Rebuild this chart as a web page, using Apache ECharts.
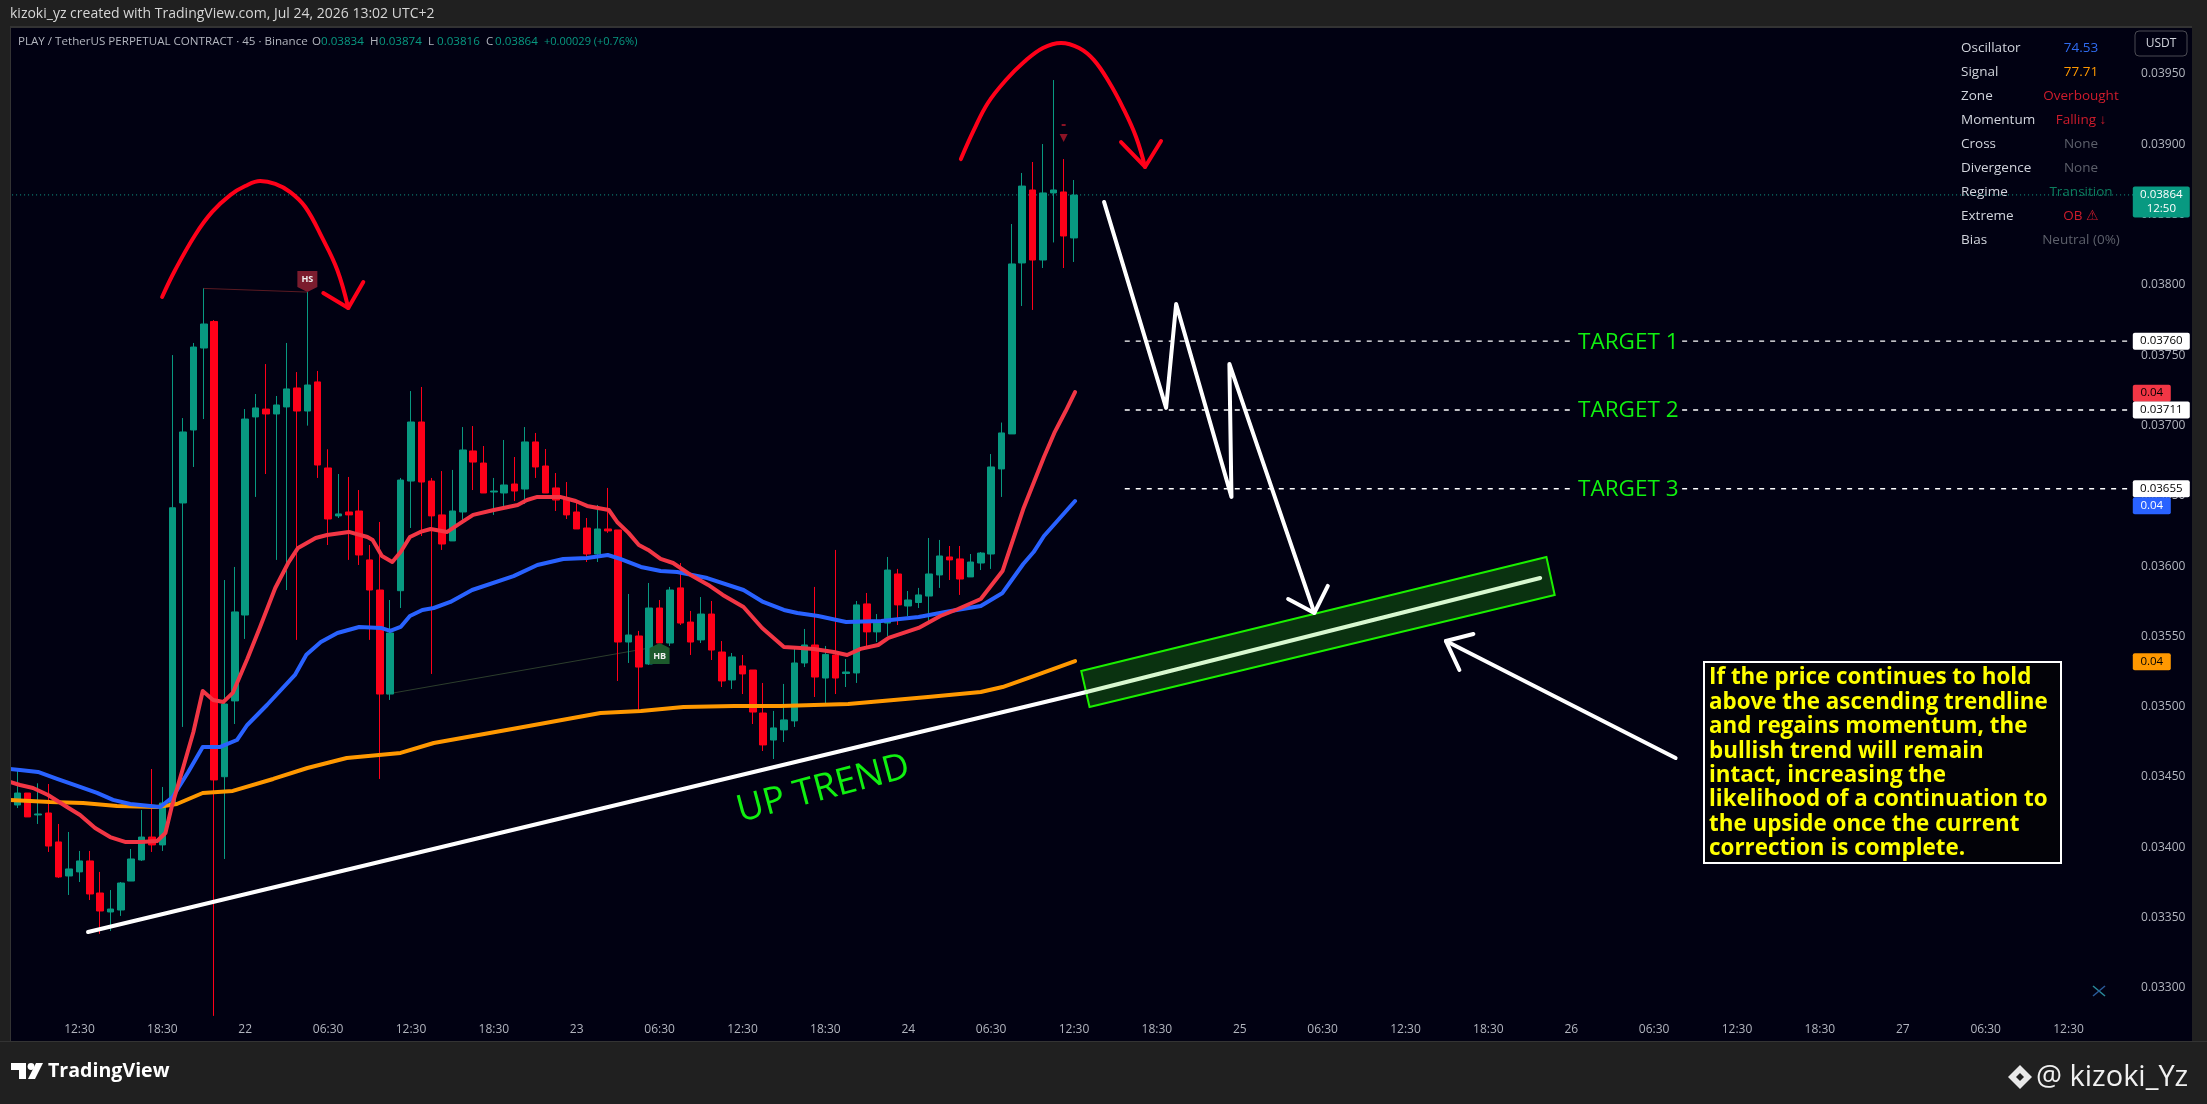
<!DOCTYPE html>
<html>
<head>
<meta charset="utf-8">
<style>html,body{margin:0;padding:0;background:#010112;overflow:hidden}#c{width:2207px;height:1104px}</style>
<script src="https://cdn.jsdelivr.net/npm/echarts@6/dist/echarts.min.js"></script>
</head>
<body>
<div id="c"></div>
<script>
// ---------- candles (PLAY/USDT, 45 min bars) ----------
const opens=[.034301,.034386,.034230,.034244,.034038,.033796,.033825,.033903,.033675,.033540,
.033554,.033760,.033910,.034073,.034017,.034308,.036449,.036968,.037551,.037740,
.034502,.035041,.035652,.037061,.037117,.037082,.037132,.037267,.037103,.037310,
.036698,.036357,.036385,.036392,.036044,.035830,.035090,.035825,.036605,.037025,
.036605,.036364,.036179,.036385,.036819,.036733,.036527,.036520,.036584,.036548,
.036883,.036712,.036556,.036484,.036385,.036271,.036086,.036264,.036257,.035460,
.035503,.035304,.035702,.035453,.035845,.035602,.035475,.035659,.035389,.035190,
.035290,.035261,.034955,.034763,.034835,.034899,.035311,.035439,.035204,.035368,
.035236,.035240,.035731,.035532,.035595,.035944,.035716,.035741,.035787,.035937,
.036065,.036051,.035923,.036022,.036086,.036691,.036940,.038156,.038675,.038177,
.038654,.038661,.038334];
const closes=[.034386,.034216,.034237,.034009,.033789,.033846,.033903,.033668,.033547,.033561,
.033746,.033917,.034073,.034017,.034315,.036415,.036954,.037558,.037722,.034479,
.035019,.035674,.037046,.037125,.037082,.037146,.037260,.037103,.037288,.036719,
.036335,.036371,.036364,.036079,.035830,.035090,.035524,.036612,.037025,.036598,
.036357,.036157,.036392,.036826,.036740,.036520,.036534,.036577,.036534,.036883,
.036705,.036520,.036470,.036364,.036264,.036086,.036264,.036250,.035460,.035510,
.035282,.035702,.035453,.035830,.035595,.035460,.035659,.035403,.035183,.035354,
.035233,.034962,.034728,.034849,.034906,.035311,.035439,.035211,.035372,.035204,
.035247,.035724,.035532,.035602,.035972,.035724,.035759,.035795,.035944,.036072,
.036044,.035908,.036029,.036093,.036705,.036947,.038149,.038703,.038177,.038654,
.038675,.038348,.038639];
const highs=[.034550,.034386,.034455,.034450,.034166,.034109,.033974,.033974,.033825,.033696,
.033753,.033988,.034265,.034557,.034429,.037501,.037053,.037587,.037975,.037750,
.035901,.035994,.037117,.037224,.037437,.037210,.037587,.037380,.037949,.037388,
.036831,.036655,.036634,.036541,.036150,.036314,.035759,.036627,.037245,.037274,
.036627,.036676,.036684,.036989,.036996,.036854,.036627,.036897,.036776,.036989,
.036947,.036833,.036662,.036598,.036456,.036342,.036435,.036556,.036257,.035802,
.035539,.035880,.035759,.035852,.036022,.035681,.035780,.035752,.035467,.035382,
.035368,.035261,.035169,.034970,.035162,.035418,.035553,.035852,.035432,.036115,
.035339,.035752,.035809,.035659,.036065,.035980,.035823,.035845,.036200,.036186,
.036143,.036143,.036086,.036100,.036797,.037021,.038433,.038796,.038874,.039002,
.039457,.038895,.038746];
const lows=[.034279,.034216,.034166,.033967,.033782,.033661,.033753,.033625,.033384,.033405,
.033512,.033760,.033903,.033967,.033974,.034265,.034856,.036705,.037046,.032801,
.033917,.034877,.035482,.036492,.036655,.036044,.035830,.035475,.036999,.036627,
.036150,.036342,.036044,.036008,.035475,.034486,.035048,.035702,.036271,.036214,
.035233,.036115,.036179,.036300,.036541,.036520,.036364,.036428,.036463,.036442,
.036627,.036520,.036392,.036335,.036264,.036029,.036029,.036236,.035183,.035311,
.034977,.035297,.035453,.035432,.035581,.035368,.035453,.035332,.035140,.035126,
.035090,.034877,.034685,.034628,.034749,.034856,.035282,.035069,.035005,.035090,
.035140,.035169,.035420,.035460,.035503,.035581,.035645,.035702,.035595,.035845,
.035901,.035795,.035923,.035972,.035980,.036492,.036940,.037850,.037822,.038120,
.038302,.038120,.038163];

// ---------- moving averages, read at the visible vertices: [bar index, price] ----------
const emaRed=[[-.71,.034465],[.26,.034443],[1.52,.034422],[2.97,.034372],[4.8,.034287],[6.06,.03423],[7.51,.034137],[8.96,.034073],[10.4,.034038],[11.9,.034038],[13.5,.034045],[14.3,.034102],[14.9,.034287],[16,.034564],[17,.03482],[17.9,.035112],[18.9,.035048],[19.9,.035034],[20.8,.035098],[22.2,.035339],[23.4,.03556],[24.9,.035844],[26.2,.036029],[27.1,.036129],[28.8,.0362],[29.9,.036221],[32,.036243],[33.8,.036207],[34.3,.036186],[35.2,.036072],[36.2,.036029],[37,.0361],[37.9,.036207],[38.9,.036243],[39.9,.036264],[41.5,.036243],[42.8,.036307],[44,.036364],[46,.036399],[48.3,.036435],[49.2,.03647],[50.2,.036492],[52.4,.036492],[53.9,.036463],[55,.036428],[57.1,.036399],[57.9,.036314],[59,.036236],[60,.03615],[60.9,.036115],[62.1,.036051],[63.3,.036022],[65,.035937],[66.7,.035866],[68.1,.035795],[70.1,.035709],[71.9,.03556],[74,.035425],[75.6,.035418],[76.9,.035411],[78.8,.035389],[80.1,.035368],[81.4,.035411],[83.1,.035439],[84.1,.035489],[87,.03556],[89.1,.035645],[90.8,.035695],[93,.035766],[95.1,.035965],[97.1,.036406],[98.1,.036591],[99.1,.036776],[100.1,.036947],[101.2,.037103],[102.1,.037238]];
const emaBlue=[[-.7,.034557],[.26,.03455],[2,.034536],[3.84,.034486],[6.06,.034429],[7.7,.034387],[9.25,.034337],[10.9,.034308],[13.8,.034287],[15,.034358],[16.5,.034536],[17.9,.034714],[19.6,.034714],[21.2,.034763],[22.2,.03487],[24.1,.035012],[26.8,.035226],[27.9,.03537],[29.3,.03546],[30.9,.035524],[33,.035567],[35.1,.03556],[36,.035539],[37,.035567],[37.9,.035645],[39.1,.035688],[40.2,.035702],[41.8,.035745],[43.9,.03583],[47.9,.035929],[50.2,.036008],[52.7,.036051],[55,.036058],[57,.036079],[58.2,.036051],[60.2,.035994],[62.1,.035965],[63.7,.035958],[66.6,.035915],[70.1,.03583],[72,.035745],[74,.035688],[75.3,.035666],[77.3,.035645],[80,.035603],[83.4,.03561],[87,.035638],[90.1,.035681],[93,.035716],[95.1,.035809],[97.1,.036015],[98.1,.0361],[99.1,.036214],[102.1,.036463]];
const emaOrange=[[-.7,.034337],[3.16,.034322],[6.35,.034315],[9.63,.034294],[13.5,.034287],[15.4,.034308],[17.9,.034386],[20.8,.034401],[24.7,.034486],[28,.034564],[31.8,.034635],[37,.034671],[40.2,.034742],[48.3,.034849],[56.3,.034955],[60.2,.034969],[64.3,.034998],[69.2,.035005],[73.7,.035005],[80.2,.035019],[87.9,.035069],[93,.035105],[95.1,.03514],[98.1,.035218],[102.1,.035325]];

// ---------- axis text ----------
const timeLabels=['12:30','18:30','22','06:30','12:30','18:30','23','06:30','12:30','18:30','24','06:30','12:30','18:30','25','06:30','12:30','18:30','26','06:30','12:30','18:30','27','06:30','12:30'];
const barCount=211;
const categories=Array.from({length:barCount},(_,i)=>{const k=(i-6)/8;return Number.isInteger(k)&&timeLabels[k]?timeLabels[k]:''});

// ---------- drawn annotations: [bar index, price] ----------
const trendLine=[[6.83,.033398],[103.2,.035105]];
const trendInner=[[103.2,.035105],[147,.035915]];
const channel=[[102.7,.035254],[147.6,.036065],[148.4,.035795],[103.5,.034998]];
const arcLeft=[[13.98,.037914],[15.24,.038106],[17.17,.038355],[18.81,.038519],[20.55,.038639],[22,.038703],[23.45,.038739],[24.9,.038718],[26.35,.03866],[27.8,.038554],[29.44,.038334],[30.89,.038106],[31.95,.037836]];
const arcLeftHead=[[29.54,.037942],[31.95,.037836],[33.4,.03802]];
const arcRight=[[91.08,.038895],[92.34,.039102],[93.69,.039294],[95.43,.039457],[97.17,.039585],[99,.039685],[100.75,.039721],[102.49,.039685],[103.93,.039599],[105.38,.039443],[106.74,.039258],[107.99,.039052],[108.86,.038839]];
const arcRightHead=[[106.54,.039016],[108.86,.038839],[110.4,.039023]];
const zigzag=[[104.9,.03859],[110.89,.037125],[111.86,.037864],[117.2,.036492],[117,.037438],[125.2,.035667]];
const zigzagHead=[[122.67,.035766],[125.2,.035667],[126.5,.035859]];
const bigArrow=[[160.07,.034635],[137.9,.035467]];
const bigArrowHead=[[140.55,.035517],[137.9,.035467],[139.2,.035261]];
const targetPrices=[.0376,.03711,.03655];
const targetTexts=['TARGET 1','TARGET 2','TARGET 3'];
const targetGaps=[[106.9,149.9],[160.7,204.2]];
const targetTextBar=155.5;
const lastPrice=.03864;
const hsLine=[[18,.037975],[28,.037949]];
const hbLine=[[35.7,.03509],[61.6,.035425]];
const hsMark=[28,.037949], hbMark=[62,.035453];
const warnTriangle=[[101,.039045]], warnDash=[[101,.039137]];
const upTrendLabel=[77.8,.034415];

// ---------- price tags on the scale ----------
const tagPrices=[.03864,.0376,.03723,.03711,.03655,.03643,.03532];
const tagTexts=['0.03864','0.03760','0.04','0.03711','0.03655','0.04','0.04'];

// ---------- indicator panel and note ----------
const panelNames=['Oscillator','Signal','Zone','Momentum','Cross','Divergence','Regime','Extreme','Bias'];
const panelValues=['74.53','77.71','Overbought','Falling ↓','None','None','Transition','OB ⚠','Neutral (0%)'];
const noteLines=['If the price continues to hold','above the ascending trendline','and regains momentum, the','bullish trend will remain','intact, increasing the','likelihood of a continuation to','the upside once the current','correction is complete.'];
const legendPairs=[['O','0.03834'],['H','0.03874'],['L','0.03816'],['C','0.03864']];

// ---------- styles ----------
const UP='#089981',DOWN='#ff0019',FONT='"Open Sans",sans-serif',FRAME='#202020',BG='#010112';
const panelColors=['#2f6bf0','#ff9800','#d01c2c','#d01c2c','#5d606b','#5d606b','#0c7d5e','#d01c2c','#5d606b'];
const tagStyles=[[UP,'#fff',57],['#fff','#000',57],['#f23645','#000',38],['#fff','#000',57],['#fff','#000',57],['#2962ff','#fff',38],['#ff9800','#000',38]];

function path(data,color,width,extra){
  return Object.assign({type:'line',xAxisIndex:1,yAxisIndex:0,data,symbol:'none',silent:true,z:6,
    lineStyle:{color,width,cap:'round',join:'round'}},extra||{});
}
const series=[];
series.push({type:'custom',xAxisIndex:1,yAxisIndex:0,silent:true,z:3,data:[0],
  renderItem:(p,api)=>({type:'polygon',shape:{points:channel.map(c=>api.coord(c))},
    style:{fill:'#0a3210',stroke:'#1bf000',lineWidth:2}})});
series.push(path([[-0.5,lastPrice],[barCount,lastPrice]],UP,1,{z:2,lineStyle:{color:'#12a08c',width:1,type:[1,3]}}));
series.push(path(hsLine,'#5a1a22',1,{z:2}),path(hbLine,'#2c3d2c',1,{z:2}));
series.push({type:'candlestick',xAxisIndex:0,yAxisIndex:0,barWidth:7,z:3,silent:true,
  data:opens.map((o,i)=>[o,closes[i],lows[i],highs[i]]),
  itemStyle:{color:UP,color0:DOWN,borderColor:UP,borderColor0:DOWN,borderWidth:1}});
series.push(path(emaOrange,'#ff9800',4,{z:4}),path(emaBlue,'#2962ff',4,{z:4}),path(emaRed,'#f23645',4,{z:4}));
series.push(path(trendLine,'#ffffff',4));
series.push(path(trendInner,'#d8f8d0',4));
series.push(path(arcLeft,DOWN,4,{smooth:.4}),path(arcLeftHead,DOWN,4));
series.push(path(arcRight,DOWN,4,{smooth:.4}),path(arcRightHead,DOWN,4));
series.push(path(zigzag,'#ffffff',4),path(zigzagHead,'#ffffff',4));
series.push(path(bigArrow,'#ffffff',4),path(bigArrowHead,'#ffffff',4));
targetPrices.forEach(price=>targetGaps.forEach(g=>{
  series.push(path([[g[0],price],[g[1],price]],'#fff',1.4,{z:5,lineStyle:{color:'#fff',width:1.4,type:[5,6]}}));
}));
series.push({type:'custom',xAxisIndex:1,yAxisIndex:0,silent:true,z:8,data:targetPrices,
  renderItem:(p,api)=>{const c=api.coord([targetTextBar,targetPrices[p.dataIndex]]);
    return {type:'text',x:c[0],y:c[1]+1,style:{text:targetTexts[p.dataIndex],fill:'#10f010',font:'22.5px '+FONT,align:'center',verticalAlign:'middle'}}}});
series.push({type:'custom',xAxisIndex:1,yAxisIndex:0,silent:true,z:8,data:[0],
  renderItem:(p,api)=>{const c=api.coord(upTrendLabel);
    return {type:'text',x:c[0],y:c[1],rotation:0.26,originX:0,originY:0,style:{text:'UP TREND',fill:'#10f010',font:'37px '+FONT,align:'center',verticalAlign:'middle'}}}});
function pin(api,mark,up,fill,label){
  const c=api.coord(mark),s=up?1:-1,w=10,b=c[1]+s*5,t=c[1]+s*21;
  return {type:'group',children:[
    {type:'polygon',shape:{points:[[c[0],c[1]],[c[0]+w,b],[c[0]+w,t],[c[0]-w,t],[c[0]-w,b]]},style:{fill}},
    {type:'text',x:c[0],y:(b+t)/2,style:{text:label,fill:'#eee',font:'bold 9px '+FONT,align:'center',verticalAlign:'middle'}}]};
}
series.push({type:'custom',xAxisIndex:1,yAxisIndex:0,silent:true,z:7,data:[0],
  renderItem:(p,api)=>pin(api,hsMark,false,'#7b1c2e','HS')});
series.push({type:'custom',xAxisIndex:1,yAxisIndex:0,silent:true,z:7,data:[0],
  renderItem:(p,api)=>pin(api,hbMark,true,'#1c5a2c','HB')});
series.push({type:'scatter',xAxisIndex:1,yAxisIndex:0,silent:true,z:7,data:warnTriangle,symbol:'triangle',symbolRotate:180,symbolSize:8,itemStyle:{color:'#b0182a'}});
series.push({type:'scatter',xAxisIndex:1,yAxisIndex:0,silent:true,z:7,data:warnDash,symbol:'rect',symbolSize:[4,2],itemStyle:{color:'#b0182a'}});
// price tags
series.push({type:'custom',xAxisIndex:1,yAxisIndex:0,silent:true,z:9,data:tagPrices,
  renderItem:(p,api)=>{
    const i=p.dataIndex,c=api.coord([204.2,tagPrices[i]]),st=tagStyles[i];
    const children=[{type:'rect',shape:{x:c[0],y:c[1]-8.5,width:st[2],height:i===0?31:17,r:2},style:{fill:st[0]}},
      {type:'text',x:c[0]+st[2]/2,y:c[1],style:{text:tagTexts[i],fill:st[1],font:'11.5px '+FONT,align:'center',verticalAlign:'middle'}}];
    if(i===0) children.push({type:'text',x:c[0]+st[2]/2,y:c[1]+14,style:{text:'12:50',fill:'#fff',font:'11.5px '+FONT,align:'center',verticalAlign:'middle'}});
    return {type:'group',children};
  }});

// ---------- page furniture ----------
const Z=100;
const graphic=[
  {type:'rect',z:Z,shape:{x:0,y:0,width:2207,height:27},style:{fill:FRAME}},
  {type:'rect',z:Z,shape:{x:0,y:26,width:2207,height:2},style:{fill:'#333'}},
  {type:'rect',z:Z,shape:{x:0,y:0,width:10,height:1104},style:{fill:FRAME}},
  {type:'rect',z:Z,shape:{x:10,y:28,width:1,height:1013},style:{fill:'#333'}},
  {type:'rect',z:Z,shape:{x:2192,y:0,width:15,height:1104},style:{fill:FRAME}},
  {type:'rect',z:Z,shape:{x:0,y:1041,width:2207,height:63},style:{fill:FRAME}},
  {type:'rect',z:Z,shape:{x:0,y:1041,width:2207,height:1},style:{fill:'#333'}},
  {type:'text',z:Z+1,x:10,y:14,style:{text:'kizoki_yz created with TradingView.com, Jul 24, 2026 13:02 UTC+2',fill:'#d6d6d6',font:'14px '+FONT,verticalAlign:'middle'}},
  {type:'text',z:Z+1,x:18,y:42,style:{text:'PLAY / TetherUS PERPETUAL CONTRACT · 45 · Binance',fill:'#b2b5be',font:'11.6px '+FONT,verticalAlign:'middle'}},
];
let lx=312;
legendPairs.forEach(([k,v])=>{
  graphic.push({type:'text',z:Z+1,x:lx,y:42,style:{text:k,fill:'#b2b5be',font:'11.6px '+FONT,verticalAlign:'middle'}});
  graphic.push({type:'text',z:Z+1,x:lx+9,y:42,style:{text:v,fill:UP,font:'11.6px '+FONT,verticalAlign:'middle'}});
  lx+=58;
});
graphic.push({type:'text',z:Z+1,x:lx,y:42,style:{text:'+0.00029 (+0.76%)',fill:UP,font:'11px '+FONT,verticalAlign:'middle'}});
panelNames.forEach((n,i)=>{
  const y=48+i*24;
  graphic.push({type:'text',z:Z+1,x:1961,y,style:{text:n,fill:'#d1d4dc',font:'13.5px '+FONT,verticalAlign:'middle'}});
  graphic.push({type:'text',z:Z+1,x:2081,y,style:{text:panelValues[i],fill:panelColors[i],font:'13.5px '+FONT,align:'center',verticalAlign:'middle'}});
});
graphic.push({type:'rect',z:Z+1,shape:{x:2135,y:31,width:52,height:25,r:4},style:{fill:BG,stroke:'#4a4a52',lineWidth:1}});
graphic.push({type:'text',z:Z+2,x:2161,y:44,style:{text:'USDT',fill:'#d1d4dc',font:'12px '+FONT,align:'center',verticalAlign:'middle'}});
// note box
graphic.push({type:'rect',z:Z-1,shape:{x:1704,y:662,width:357,height:201},style:{fill:'#020208',stroke:'#fff',lineWidth:2}});
noteLines.forEach((t,i)=>graphic.push({type:'text',z:Z,x:1709,y:678+i*24.4,style:{text:t,fill:'#ffff00',font:'bold 22.4px '+FONT,verticalAlign:'middle'}}));
// small scale-corner glyph
graphic.push({type:'polyline',z:Z,shape:{points:[[2093,986],[2105,996]]},style:{stroke:'#2a8a9a',lineWidth:1.5,fill:null}});
graphic.push({type:'polyline',z:Z,shape:{points:[[2105,986],[2093,996]]},style:{stroke:'#2a5a9a',lineWidth:1.5,fill:null}});
// TradingView logo and wordmark
graphic.push({type:'polygon',z:Z+1,shape:{points:[[11,1063],[26,1063],[26,1079],[19,1079],[19,1070],[11,1070]]},style:{fill:'#fff'}});
graphic.push({type:'circle',z:Z+1,shape:{cx:31,cy:1066.5,r:3.4},style:{fill:'#fff'}});
graphic.push({type:'polygon',z:Z+1,shape:{points:[[36,1063],[43,1063],[35,1079],[28,1079]]},style:{fill:'#fff'}});
graphic.push({type:'text',z:Z+1,x:48,y:1071,style:{text:'TradingView',fill:'#fff',font:'bold 19.6px '+FONT,verticalAlign:'middle'}});
// watermark
graphic.push({type:'polygon',z:Z+1,shape:{points:[[2020,1065],[2032,1077],[2020,1089],[2008,1077]]},style:{fill:'#e8e8e8'}});
graphic.push({type:'polygon',z:Z+2,shape:{points:[[2020,1073],[2024,1077],[2020,1081],[2016,1077]]},style:{fill:FRAME}});
graphic.push({type:'text',z:Z+1,x:2036,y:1078,style:{text:'@ kizoki_Yz',fill:'#f0f0f0',font:'29px '+FONT,verticalAlign:'middle'}});

const chart=echarts.init(document.getElementById('c'),null,{renderer:'canvas',width:2207,height:1104});
chart.setOption({
  animation:false,
  backgroundColor:BG,
  grid:{left:12.1,top:3.7,width:2185.96,height:1054.5,containLabel:false},
  xAxis:[
    {type:'category',data:categories,boundaryGap:true,axisLine:{show:false},axisTick:{show:false},splitLine:{show:false},
      axisLabel:{inside:true,margin:23,interval:0,hideOverlap:false,color:'#b2b5be',fontSize:12,fontFamily:FONT}},
    {type:'value',show:false,min:-0.5,max:barCount-0.5,splitLine:{show:false}}
  ],
  yAxis:{type:'value',position:'right',min:.0325,max:.04,interval:.0005,axisLine:{show:false},axisTick:{show:false},splitLine:{show:false},
    axisLabel:{inside:true,margin:57,align:'left',color:'#b2b5be',fontSize:12,fontFamily:FONT,
      formatter:v=>(v<.0329||v>.0396)?'':v.toFixed(5)}},
  graphic:{elements:graphic},
  series
});
</script>
</body>
</html>
